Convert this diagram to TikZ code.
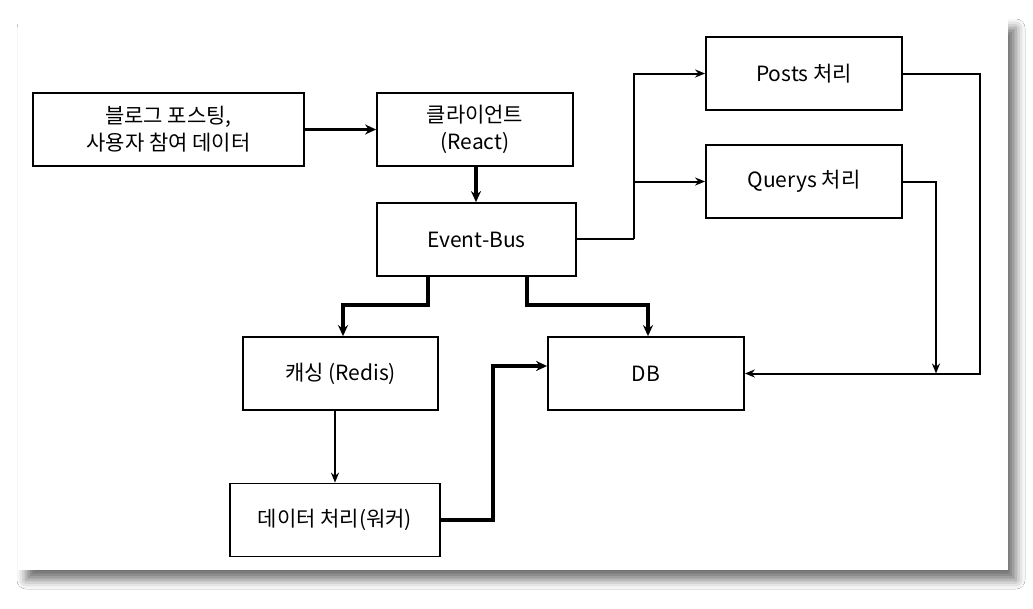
\documentclass[tikz,border=0pt]{standalone}
\usepackage{fontspec}
\setmainfont{Noto Sans CJK KR}
\usetikzlibrary{arrows.meta,shadows.blur}
\begin{document}
\begin{tikzpicture}[x=1pt,y=-1pt,
  box/.style={draw,line width=1.8pt,minimum width=#1,minimum height=73pt,inner sep=0pt,align=center,font=\fontsize{21}{27}\selectfont},
  thin/.style={line width=2pt,-{Stealth[length=10pt,width=8pt]}},
  thick/.style={line width=3.2pt,-{Stealth[length=11pt,width=10pt]}}]
\useasboundingbox (0,0) rectangle (1033,608);
\fill[white] (0,0) rectangle (1033,608);
\fill[white,blur shadow={shadow xshift=8pt,shadow yshift=-10pt,shadow blur radius=9pt,shadow opacity=55}] (18,18) rectangle (1008,570);
\node[box=271pt] (blog) at (168.5,129.5) {블로그 포스팅,\\사용자 참여 데이터};
\node[box=196pt] (client) at (475,129.5) {클라이언트\\(React)};
\node[box=199pt] (bus) at (476.5,239.5) {Event-Bus};
\node[box=196pt] (posts) at (804,73.5) {Posts 처리};
\node[box=196pt] (query) at (804,181.5) {Querys 처리};
\node[box=195pt] (cache) at (340.5,373.5) {캐싱 (Redis)};
\node[box=196pt] (db) at (646,373.5) {DB};
\node[box=210pt] (work) at (335,520) {데이터 처리(워커)};
\coordinate (j) at (634,239);
\draw[thick] (blog.east) -- (client.west);
\draw[thick] (client.south -| 476,0) -- (bus.north -| 476,0);
\draw[line width=2.4pt] (bus.east |- 0,239) -- (j);
\draw[thin] (j) |- (posts.west);
\draw[thin] (j) |- (query.west);
\draw[thick] (428,276) -- (428,305) -| (cache.north -| 343,0);
\draw[thick] (527,276) -- (527,305) -| (db.north -| 648,0);
\draw[thin] (cache.south -| 335,0) -- (work.north -| 335,0);
\draw[thick] (work.east) -- (493,520) |- (db.west |- 0,366);
\draw[thin] (posts.east) -- (980,73.5) |- (db.east);
\draw[thin] (query.east) -- (936,181.5) -- (936,373.5);
\end{tikzpicture}
\end{document}
